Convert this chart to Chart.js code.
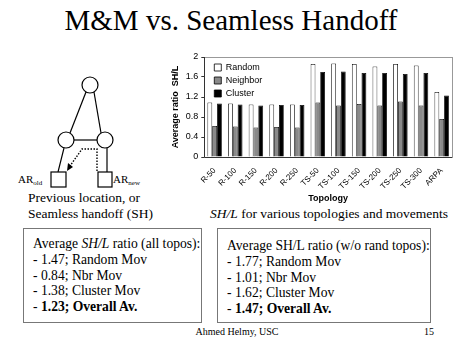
<!DOCTYPE html>
<html><head><meta charset="utf-8">
<script src="https://cdn.jsdelivr.net/npm/chart.js@4.4.0/dist/chart.umd.min.js"></script>
<style>
html,body{margin:0;padding:0;background:#fff;width:474px;height:355px;overflow:hidden;font-family:"Liberation Serif",serif;color:#000;}
.abs{position:absolute;white-space:nowrap;}
#title{left:0;width:462px;top:4px;text-align:center;font-size:29px;}
.box{position:absolute;border:1px solid #777;box-sizing:border-box;}
.box div{font-size:13.6px;line-height:15.8px;white-space:nowrap;}
#wrap{position:absolute;left:170px;top:48px;width:292px;height:158px;}
</style></head><body>
<div class="abs" id="title">M&amp;M vs. Seamless Handoff</div>
<svg style="position:absolute;left:0;top:0" width="170" height="230">
  <g stroke="#000" stroke-width="1.2" fill="none">
    <circle cx="90" cy="85" r="8" fill="#fff"/>
    <circle cx="66" cy="140" r="8" fill="#fff"/>
    <circle cx="105" cy="140" r="8" fill="#fff"/>
    <line x1="86" y1="92" x2="70" y2="133"/>
    <line x1="94" y1="92" x2="101" y2="133"/>
    <line x1="74" y1="140" x2="97" y2="140"/>
    <line x1="64" y1="148" x2="58" y2="172"/>
    <line x1="107" y1="148" x2="107" y2="172"/>
    <rect x="51" y="172" width="15" height="15" fill="#fff"/>
    <rect x="98" y="172" width="14" height="15" fill="#fff"/>
    <polyline points="97,171 97,149 82,149 70,166" stroke-dasharray="1.5,1.5" stroke-width="1.4"/>
  </g>
  <polygon points="67,171 68,163 73,167" fill="#000"/>
  <text x="18" y="183" font-family="Liberation Serif" font-size="11">AR<tspan font-size="7" dy="2">old</tspan></text>
  <text x="113" y="183" font-family="Liberation Serif" font-size="11">AR<tspan font-size="7" dy="2">new</tspan></text>
</svg>
<div class="abs" style="left:28px;top:190px;font-size:13.5px;line-height:16px;">Previous location, or<br>Seamless handoff (SH)</div>
<div class="abs" style="left:210px;top:206px;font-size:13.5px;"><i>SH/L</i> for various topologies and movements</div>
<div id="wrap"><canvas id="c"></canvas></div>
<div class="box" style="left:23px;top:228px;width:179px;height:95px;padding:7px 0 0 9px;">
  <div>Average <i>SH/L</i> ratio (all topos):</div>
  <div>- 1.47; Random Mov</div>
  <div>- 0.84; Nbr Mov</div>
  <div>- 1.38; Cluster Mov</div>
  <div>- <b>1.23; Overall Av.</b></div>
</div>
<div class="box" style="left:217px;top:228px;width:214px;height:95px;padding:9px 0 0 9px;">
  <div>Average SH/L ratio (w/o rand topos):</div>
  <div>- 1.77; Random Mov</div>
  <div>- 1.01; Nbr Mov</div>
  <div>- 1.62; Cluster Mov</div>
  <div>- <b>1.47; Overall Av.</b></div>
</div>
<div class="abs" style="left:0;width:474px;text-align:center;top:326px;font-size:10px;">Ahmed Helmy, USC</div>
<div class="abs" style="left:424px;top:326px;font-size:10px;">15</div>
<script>
const categories = ["R-50","R-100","R-150","R-200","R-250","TS-50","TS-100","TS-150","TS-200","TS-250","TS-300","ARPA"];
const randomMov   = [1.09,1.07,1.05,1.05,1.05,1.86,1.87,1.86,1.81,1.86,1.83,1.30];
const neighborMov = [0.62,0.61,0.59,0.60,0.59,1.09,1.03,1.06,1.03,1.11,1.03,0.76];
const clusterMov  = [1.07,1.05,1.03,1.04,1.04,1.70,1.71,1.68,1.68,1.66,1.68,1.23];
const yTicks = [0,0.2,0.4,0.6,0.8,1,1.2,1.4,1.6,1.8,2];

const frame = {
  id:'frame',
  beforeDraw(chart){
    if (chart.legend) { chart.legend.top = chart.chartArea.top + 2; chart.legend.left = chart.chartArea.left + 6; }
  },
  afterDraw(chart){
    const a = chart.chartArea, ctx = chart.ctx;
    ctx.save();
    ctx.strokeStyle = '#999'; ctx.lineWidth = 1;
    ctx.strokeRect(Math.round(a.left)+0.5, Math.round(a.top)+0.5, Math.round(a.right-a.left), Math.round(a.bottom-a.top));
    ctx.strokeStyle = '#333';
    ctx.beginPath();
    ctx.moveTo(Math.round(a.left)+0.5, a.top); ctx.lineTo(Math.round(a.left)+0.5, a.bottom);
    ctx.moveTo(a.left, Math.round(a.bottom)+0.5); ctx.lineTo(a.right, Math.round(a.bottom)+0.5);
    ctx.stroke();
    ctx.restore();
  }
};
const sans = "'Liberation Sans', Arial, sans-serif";
new Chart(document.getElementById('c'), {
  type:'bar',
  data:{
    labels:categories,
    datasets:[
      {label:'Random', data:randomMov, backgroundColor:'#fff', borderColor:'#000', borderWidth:0.8},
      {label:'Neighbor', data:neighborMov, backgroundColor:'#8a8a8a', borderColor:'#000', borderWidth:0.8},
      {label:'Cluster', data:clusterMov, backgroundColor:'#000', borderColor:'#000', borderWidth:0.8}
    ]
  },
  options:{
    responsive:true, maintainAspectRatio:false, animation:false,
    layout:{padding:{top:9,right:10,left:0,bottom:2}},
    datasets:{bar:{categoryPercentage:0.7, barPercentage:1.0}},
    plugins:{
      legend:{position:'chartArea', align:'start',
        labels:{boxWidth:7, boxHeight:7, padding:4, color:'#000', font:{family:sans,size:9}}},
      tooltip:{enabled:false}
    },
    scales:{
      x:{
        afterFit(s){ s.height = 47; },
        grid:{display:false}, border:{display:false},
        ticks:{color:'#000', font:{family:sans,size:8}, maxRotation:45, minRotation:45, padding:1, autoSkip:false},
        title:{display:true, text:'Topology', color:'#000', font:{family:sans,size:9,weight:'bold'}, padding:{top:4,bottom:0}}
      },
      y:{
        min:0, max:2,
        afterBuildTicks(s){ s.ticks = yTicks.map(v=>({value:v})); },
        grid:{drawOnChartArea:false, drawTicks:true, tickLength:3, color:'#333'}, border:{display:false},
        ticks:{color:'#000', font:{family:sans,size:9}, padding:3, callback:v=>String(v)},
        title:{display:true, text:'Average ratio  SH/L', color:'#000', font:{family:sans,size:9,weight:'bold'}, padding:{top:0,bottom:2}}
      }
    }
  },
  plugins:[frame]
});
</script>
</body></html>
